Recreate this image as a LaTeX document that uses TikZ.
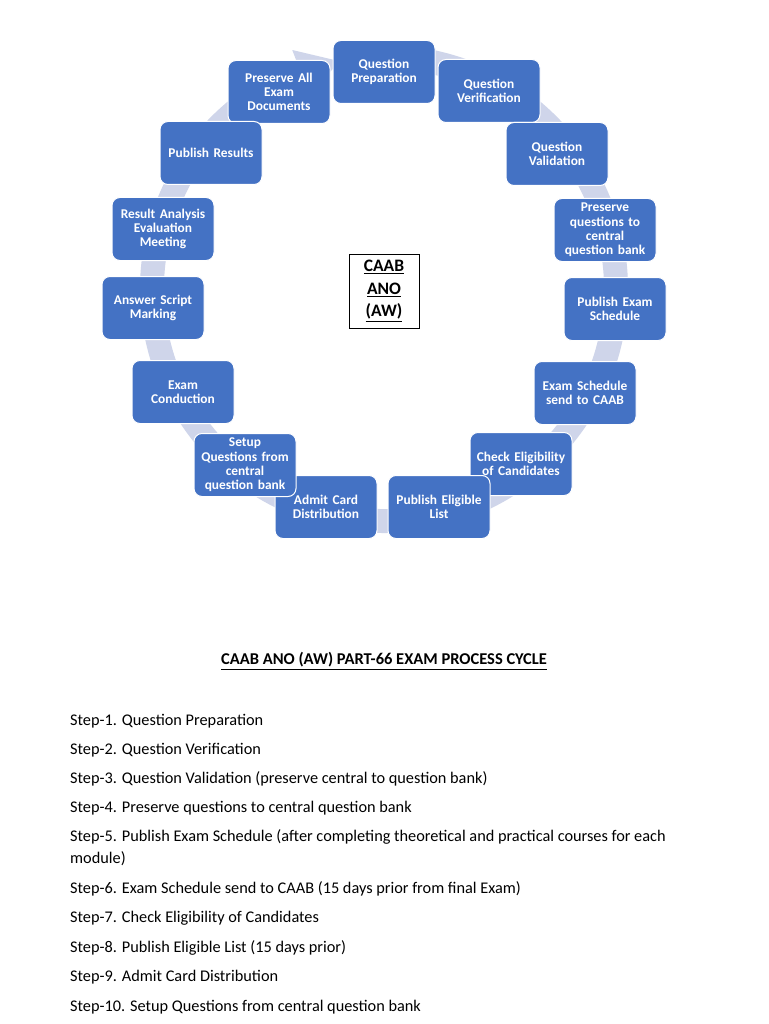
\documentclass[tikz,border=0pt]{standalone}
\usepackage{fontspec}
\setmainfont{Carlito}
\usetikzlibrary{calc}
\definecolor{boxblue}{RGB}{68,114,196}
\definecolor{ribbon}{RGB}{207,213,234}
\tikzset{
  stepbox/.style={rectangle, rounded corners=8pt, fill=boxblue, draw=white, line width=1pt,
    minimum width=102pt, minimum height=63pt, text width=100pt, align=center, inner sep=1pt,
    text=white, font=\fontsize{13.4}{14.3}\selectfont\bfseries},
  centerbox/.style={rectangle, draw=black, line width=0.8pt, minimum width=70pt, minimum height=74pt,
    align=center, inner sep=2pt, font=\fontsize{17.5}{22.5}\selectfont\bfseries},
  steptext/.style={anchor=west, inner sep=0pt, font=\fontsize{16.3}{22}\selectfont, align=left},
  titletext/.style={inner sep=0pt, font=\fontsize{16.5}{18}\selectfont\bfseries}
}
\begin{document}
\begin{tikzpicture}[x=1pt,y=1pt]
\useasboundingbox[fill=white] (0,0) rectangle (768,-1024);
\coordinate (c) at (384,-289);
% ribbon arrow circle
\fill[ribbon] ($(c)+(85:244)$) arc[start angle=85, end angle=-249, radius=244]
  -- ($(c)+(-249:256)$) -- ($(c)+(-259:232)$) -- ($(c)+(-249:208)$)
  -- ($(c)+(-249:220)$) arc[start angle=-249, end angle=85, radius=220] -- cycle;
% boxes
\node[stepbox] (b15) at (279,-92) {Preserve All\\Exam\\Documents};
\node[stepbox] (b14) at (211,-153) {Publish Results};
\node[stepbox] (b13) at (163,-229) {Result Analysis\\Evaluation\\Meeting};
\node[stepbox] (b12) at (153,-308) {Answer Script\\Marking};
\node[stepbox] (b11) at (183,-392) {Exam\\Conduction};
\node[stepbox] (b9) at (326,-507) {Admit Card\\Distribution};
\node[stepbox] (b10) at (245,-465) {Setup\\Questions from\\central\\question bank};
\node[stepbox] (b1) at (384,-72) {Question\\Preparation};
\node[stepbox] (b2) at (489,-91) {Question\\Verification};
\node[stepbox] (b3) at (557,-154) {Question\\Validation};
\node[stepbox] (b4) at (605,-230) {Preserve\\questions to\\central\\question bank};
\node[stepbox] (b5) at (615,-309) {Publish Exam\\Schedule};
\node[stepbox] (b6) at (585,-393) {Exam Schedule\\send to CAAB};
\node[stepbox] (b7) at (521,-464) {Check Eligibility\\of Candidates};
\node[stepbox] (b8) at (439,-507) {Publish Eligible\\List};
% centre
\node[centerbox] (ctr) at (384,-291) {\underline{CAAB}\\\underline{ANO}\\\underline{(AW)}};
% title and steps
\node[titletext] (title) at (384,-661) {\underline{CAAB ANO (AW) PART-66 EXAM PROCESS CYCLE}};
\node[steptext] (s1) at (70,-721) {Step-1. Question Preparation};
\node[steptext] (s2) at (70,-750) {Step-2. Question Verification};
\node[steptext] (s3) at (70,-779) {Step-3. Question Validation (preserve central to question bank)};
\node[steptext] (s4) at (70,-808) {Step-4. Preserve questions to central question bank};
\node[steptext, anchor=north west] (s5) at (70,-829) {Step-5. Publish Exam Schedule (after completing theoretical and practical courses for each\\module)};
\node[steptext] (s6) at (70,-889) {Step-6. Exam Schedule send to CAAB (15 days prior from final Exam)};
\node[steptext] (s7) at (70,-918) {Step-7. Check Eligibility of Candidates};
\node[steptext] (s8) at (70,-948) {Step-8. Publish Eligible List (15 days prior)};
\node[steptext] (s9) at (70,-977) {Step-9. Admit Card Distribution};
\node[steptext] (s10) at (70,-1007) {Step-10. Setup Questions from central question bank};
\end{tikzpicture}
\end{document}
